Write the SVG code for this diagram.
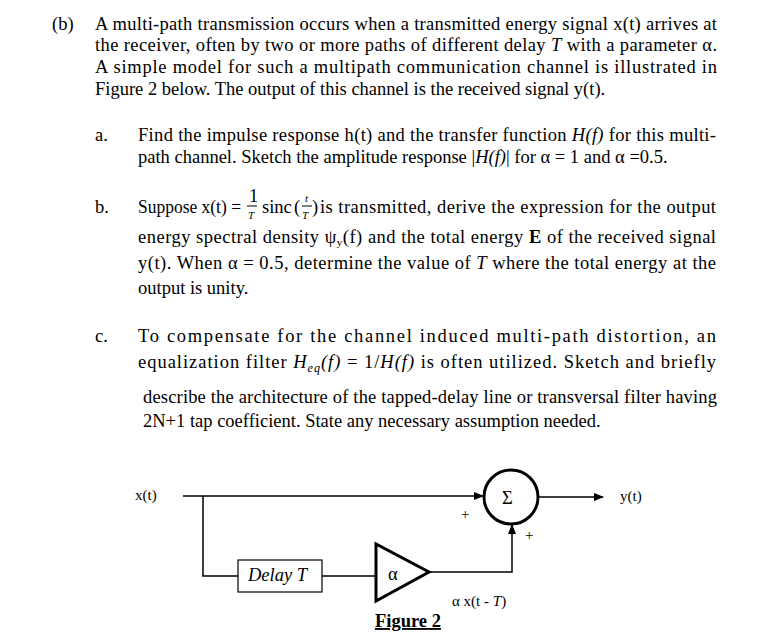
<svg xmlns="http://www.w3.org/2000/svg" width="775" height="644" viewBox="0 0 775 644">
<style>
text{font-family:"Liberation Serif","Times New Roman",serif;font-size:18.5px;fill:#000}
.s{font-size:15px}
.f{font-size:11px;font-style:italic}
.ln{stroke:#000;stroke-width:1.5;fill:none}
.th{stroke:#000;stroke-width:3;fill:#fff}
</style>
<defs><marker id="a" markerWidth="10" markerHeight="8" refX="9" refY="4" orient="auto" markerUnits="userSpaceOnUse"><path d="M0,0L10,4L0,8z" fill="#000"/></marker></defs>
<rect width="775" height="644" fill="#fff"/>
<g id="text">
<text x="52" y="30">(b)</text>
<text x="95" y="30" textLength="622" lengthAdjust="spacing">A multi-path transmission occurs when a transmitted energy signal x(t) arrives at</text>
<text x="95" y="51" textLength="622" lengthAdjust="spacing">the receiver, often by two or more paths of different delay <tspan font-style="italic">T</tspan> with a parameter α.</text>
<text x="95" y="73" textLength="622" lengthAdjust="spacing">A simple model for such a multipath communication channel is illustrated in</text>
<text x="95" y="95">Figure 2 below. The output of this channel is the received signal y(t).</text>
<text x="95" y="141">a.</text>
<text x="138" y="141" textLength="578" lengthAdjust="spacing">Find the impulse response h(t) and the transfer function <tspan font-style="italic">H(f)</tspan> for this multi-</text>
<text x="138" y="163">path channel. Sketch the amplitude response |<tspan font-style="italic">H(f)</tspan>| for α = 1 and α =0.5.</text>
<text x="95" y="213">b.</text>
<text x="138" y="213" textLength="103" lengthAdjust="spacingAndGlyphs">Suppose x(t) =</text>
<text x="249" y="202" font-size="11">1</text>
<line x1="247" y1="206" x2="257" y2="206" stroke="#000"/>
<text x="248" y="219" class="f">T</text>
<text x="262" y="213">sinc</text>
<text x="294" y="213" font-size="23" transform="translate(0,0)">(</text>
<text x="305" y="202" class="f">t</text>
<line x1="302" y1="206" x2="312" y2="206" stroke="#000"/>
<text x="302" y="219" class="f">T</text>
<text x="312" y="213" font-size="23">)</text>
<text x="320" y="213" textLength="396" lengthAdjust="spacing">is transmitted, derive the expression for the output</text>
<text x="138" y="243" textLength="578" lengthAdjust="spacing">energy spectral density ψ<tspan font-size="11" dy="3">y</tspan><tspan dy="-3">(f) and the total energy </tspan><tspan font-weight="bold">E</tspan> of the received signal</text>
<text x="138" y="269" textLength="578" lengthAdjust="spacing">y(t). When α = 0.5, determine the value of <tspan font-style="italic">T</tspan> where the total energy at the</text>
<text x="138" y="294">output is unity.</text>
<text x="95" y="342">c.</text>
<text x="138" y="342" textLength="578" lengthAdjust="spacing">To compensate for the channel induced multi-path distortion, an</text>
<text x="138" y="368" textLength="578" lengthAdjust="spacing">equalization filter <tspan font-style="italic">H</tspan><tspan font-style="italic" font-size="12" dy="4">eq</tspan><tspan dy="-4" font-style="italic">(f)</tspan> = 1/<tspan font-style="italic">H(f)</tspan> is often utilized. Sketch and briefly</text>
<text x="143" y="403" textLength="574" lengthAdjust="spacing">describe the architecture of the tapped-delay line or transversal filter having</text>
<text x="143" y="427">2N+1 tap coefficient. State any necessary assumption needed.</text>
</g>
<g id="connectors">
<line class="ln" x1="183" y1="496" x2="483" y2="496" marker-end="url(#a)"/>
<polyline class="ln" points="203,496 203,576 238,576"/>
<line class="ln" x1="322" y1="576" x2="376" y2="576"/>
<polyline class="ln" points="428,572 512,572 512,525" marker-end="url(#a)"/>
<line class="ln" x1="538" y1="497" x2="603" y2="497" marker-end="url(#a)"/>
</g>
<g id="sum"><circle class="th" cx="511" cy="497" r="27"/><text x="502" y="504" font-size="20">Σ</text></g>
<g id="delay"><rect x="238" y="560" width="84" height="32" fill="#fff" stroke="#000" stroke-width="1.2"/><text x="248" y="581" font-style="italic" font-size="16">Delay T</text></g>
<g id="gain"><polygon class="th" points="376,544 376,601 429,572"/><text x="388" y="580" font-size="13">α</text></g>
<g id="labels">
<text x="135" y="500" class="s">x(t)</text>
<text x="620" y="501" class="s">y(t)</text>
<text x="461" y="519" class="s">+</text>
<text x="525" y="540" class="s">+</text>
<text x="452" y="606" class="s">α x(t - <tspan font-style="italic">T</tspan>)</text>
<text x="375" y="627" font-weight="bold" text-decoration="underline">Figure 2</text>
</g>
</svg>
